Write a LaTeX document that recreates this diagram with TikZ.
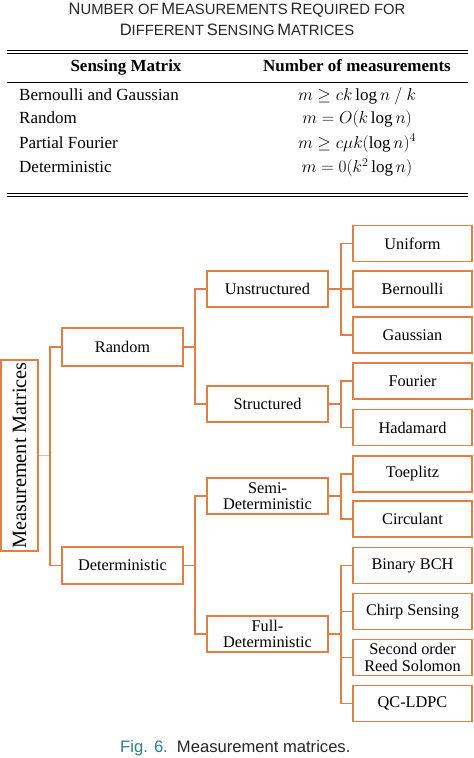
\documentclass[tikz,border=0pt]{standalone}
\usepackage{fontspec}
\setmainfont{Liberation Serif}
\newfontfamily\hsans{Liberation Sans}
\definecolor{org}{HTML}{E27F45}
\definecolor{orglight}{HTML}{EDB896}
\definecolor{teal6}{HTML}{2A7F88}
\definecolor{ttl}{HTML}{262626}
\newcommand{\BigC}[1]{{\fontsize{16.5}{16}\selectfont #1}}
\newcommand{\SmC}[1]{{\fontsize{14.8}{14}\selectfont #1}}
\begin{document}
\begin{tikzpicture}[x=1pt,y=-1pt,
  box/.style={draw=org, line width=1.2pt, fill=white, inner sep=0pt, align=center,
    minimum height=36pt, font=\fontsize{16.3}{16.5}\selectfont},
  midbox/.style={box, minimum width=121pt},
  leaf/.style={box, minimum width=119pt},
  conn/.style={draw=org, line width=1.2pt},
  ttext/.style={anchor=base, inner sep=0pt, font=\fontsize{17}{17}\selectfont},
  rule/.style={line width=0.9pt}]
\useasboundingbox (0,0) rectangle (474,758);

% ---------- table ----------
\node[anchor=base, inner sep=0pt, text=ttl, font=\hsans] (t1) at (237,14)
  {\BigC{N}\SmC{UMBER OF} \BigC{M}\SmC{EASUREMENTS} \BigC{R}\SmC{EQUIRED FOR}};
\node[anchor=base, inner sep=0pt, text=ttl, font=\hsans] (t2) at (237,35)
  {\BigC{D}\SmC{IFFERENT} \BigC{S}\SmC{ENSING} \BigC{M}\SmC{ATRICES}};

\draw[rule] (7,50.5) -- (468,50.5);
\draw[rule] (7,53.5) -- (468,53.5);
\draw[rule] (7,82.5) -- (468,82.5);
\draw[rule] (7,193) -- (468,193);
\draw[rule] (7,196.5) -- (468,196.5);

\node[ttext] (h1) at (126,71) {\bfseries Sensing Matrix};
\node[ttext] (h2) at (357,71) {\bfseries Number of measurements};

\node[ttext, anchor=base west] (r1) at (19,100) {Bernoulli and Gaussian};
\node[ttext, anchor=base west] (r2) at (19,123.5) {Random};
\node[ttext, anchor=base west] (r3) at (19,148) {Partial Fourier};
\node[ttext, anchor=base west] (r4) at (19,172.5) {Deterministic};

\node[ttext] (m1) at (357,100) {$m \geq ck\log n\ /\ k$};
\node[ttext] (m2) at (357,123.5) {$m = O(k\log n)$};
\node[ttext] (m3) at (357,148) {$m \geq c\mu k(\log n)^4$};
\node[ttext] (m4) at (357,172.5) {$m = 0(k^2\log n)$};

% ---------- tree ----------
\node[box, minimum width=37pt, minimum height=191pt] (mm) at (19.5,455.5)
  {\rotatebox{90}{\fontsize{20.3}{20}\selectfont Measurement Matrices}};

\node[midbox, minimum height=38pt] (rnd) at (122.5,347) {Random};
\node[midbox, minimum height=37pt] (det) at (122.5,565.5) {Deterministic};

\node[midbox] (uns) at (267.5,289) {Unstructured};
\node[midbox] (str) at (267.5,404) {Structured};
\node[midbox] (semi) at (267.5,496) {Semi-\\Deterministic};
\node[midbox] (full) at (267.5,634) {Full-\\Deterministic};

\node[leaf] (uni) at (412.5,243.5) {Uniform};
\node[leaf] (ber) at (412.5,289) {Bernoulli};
\node[leaf] (gau) at (412.5,335) {Gaussian};
\node[leaf] (fou) at (412.5,381) {Fourier};
\node[leaf] (had) at (412.5,427.5) {Hadamard};
\node[leaf] (toe) at (412.5,474) {Toeplitz};
\node[leaf] (cir) at (412.5,519) {Circulant};
\node[leaf] (bch) at (412.5,565.5) {Binary BCH};
\node[leaf] (chi) at (412.5,611.5) {Chirp Sensing};
\node[leaf] (sec) at (412.5,657.5) {Second order\\Reed Solomon};
\node[leaf] (qc) at (412.5,703.5) {QC-LDPC};

\coordinate (tA) at (50,0);
\coordinate (tB) at (195,0);
\coordinate (tC) at (341,0);

% root
\draw[conn, draw=orglight] (mm.east) -- (mm.east -| tA);
\draw[conn] (rnd.west) -- (rnd.west -| tA) -- (det.west -| tA) -- (det.west);

% random
\draw[conn] (rnd.east) -- (rnd.east -| tB);
\draw[conn] (uns.west) -- (uns.west -| tB) -- (str.west -| tB) -- (str.west);
% deterministic
\draw[conn] (det.east) -- (det.east -| tB);
\draw[conn] (semi.west) -- (semi.west -| tB) -- (full.west -| tB) -- (full.west);

% unstructured
\draw[conn] (uns.east) -- (uns.east -| tC);
\draw[conn] (uni.west) -- (uni.west -| tC) -- (gau.west -| tC) -- (gau.west);
\draw[conn] (ber.west) -- (ber.west -| tC);
% structured
\draw[conn] (str.east) -- (str.east -| tC);
\draw[conn] (fou.west) -- (fou.west -| tC) -- (had.west -| tC) -- (had.west);
% semi
\draw[conn] (semi.east) -- (semi.east -| tC);
\draw[conn] (toe.west) -- (toe.west -| tC) -- (cir.west -| tC) -- (cir.west);
% full
\draw[conn] (full.east) -- (full.east -| tC);
\draw[conn] (bch.west) -- (bch.west -| tC) -- (qc.west -| tC) -- (qc.west);
\draw[conn] (chi.west) -- (chi.west -| tC);
\draw[conn] (sec.west) -- (sec.west -| tC);

% caption
\node[anchor=base west, inner sep=0pt, font=\hsans\fontsize{16.6}{16}\selectfont] (cap) at (120,752)
  {\textcolor{teal6}{Fig. 6.}\hspace{0.55em}\textcolor{ttl}{Measurement matrices.}};
\end{tikzpicture}
\end{document}
